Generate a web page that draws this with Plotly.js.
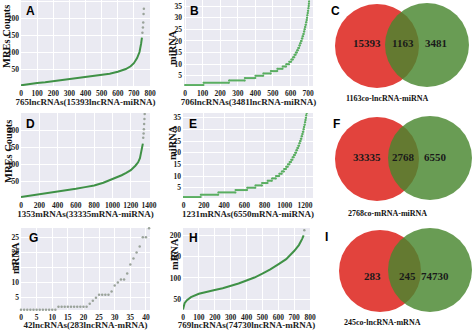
<!DOCTYPE html>
<html><head><meta charset="utf-8">
<script src="https://cdn.plot.ly/plotly-3.0.1.min.js"></script>
<style>html,body{margin:0;padding:0;background:#fff;overflow:hidden}#chart{width:474px;height:330px}</style>
</head><body><div id="chart"></div>
<script>
// ---------- DATA ----------
// A: MREs counts of lncRNAs (sorted)
const aCurveX = [0, 50, 100, 150, 200, 250, 300, 350, 400, 450, 500, 550, 600, 650, 680, 700, 720, 735, 745, 750];
const aCurveY = [2, 6, 9, 11, 14, 16, 19, 22, 25, 28, 32, 36, 42, 50, 58, 67, 82, 100, 125, 142];
const aTailX = [753, 756, 758, 760, 762, 764];
const aTailY = [157, 172, 187, 212, 227, 257];
// B: miRNA per lncRNA (step levels)
const bStart = [0,105,250,340,400,445,488,525,555,575,592,604,614,622,630,637,643,649,654,659,664,668,672,676,679,682,685,688,691,693,695,697,699,701,703,704,705];
const bLevel = [1,2,3,4,5,6,7,8,9,10,11,12,13,14,15,16,17,18,19,20,21,22,23,24,25,26,27,28,29,30,31,32,33,34,35,36,37];
const bEnd = 706;
// D: MREs counts of mRNAs (sorted)
const dCurveX = [0,100,200,300,400,500,600,700,800,900,1000,1100,1150,1200,1250,1280,1300,1315,1325,1332];
const dCurveY = [3,7,10,13,17,22,27,32,37,45,55,67,74,82,95,105,117,135,150,160];
const dTailX = [1336,1340,1343,1346,1349,1352];
const dTailY = [177,190,202,218,232,247];
// E: miRNA per mRNA (step levels)
const eStart = [0,170,343,513,628,709,775,830,873,912,945,970,992,1012,1030,1047,1062,1076,1089,1101,1112,1122,1132,1141,1149,1157,1164,1171,1177,1183,1188,1193,1198,1202,1206,1210,1213];
const eLevel = [1,2,3,4,5,6,7,8,9,10,11,12,13,14,15,16,17,18,19,20,21,22,23,24,25,26,27,28,29,30,31,32,33,34,35,36,37];
const eEnd = 1218;
// G: mRNA per lncRNA
const gX = [0,1,2,3,4,5,6,7,8,9,10,11,12,13,14,15,16,17,18,19,20,21,22,23,24,25,26,27,28,29,30,31,32,33,34,35,36,37,38,39,40,41];
const gY = [1,1,1,1,1,1,1,1,1,1,1,1,2,2,2,2,2,2,2,2,2,2,3,4,5,6,6,6,6,7,9,10,11,11,13,16,18,20,22,25,25,28];
// H: mRNA per lncRNA (sorted)
const hCurveX = [0,10,25,50,100,150,200,250,300,350,400,450,500,550,600,650,700,730,750,760];
const hCurveY = [26,41,48,55,63,68,72,76,81,87,94,101,110,120,132,144,163,177,191,200];
const hTailX = [764,766,768];
const hTailY = [212,223,235];
// Venn counts
const vennLeft = [15393, 33335, 283];
const vennBoth = [1163, 2768, 245];
const vennRight = [3481, 6550, 74730];
const vennCaption = ['1163co-lncRNA-miRNA', '2768co-mRNA-miRNA', '245co-lncRNA-mRNA'];
// Titles
const xTitles = ['765lncRNAs(15393lncRNA-miRNA)','706lncRNAs(3481lncRNA-miRNA)','1353mRNAs(33335mRNA-miRNA)','1231mRNAs(6550mRNA-miRNA)','42lncRNAs(283lncRNA-mRNA)','769lncRNAs(74730lncRNA-mRNA)'];
const yTitles = ['MREs Counts','miRNA','MREs Counts','miRNA','mRNA','mRNA'];
const panelLetters = ['A','B','C','D','E','F','G','H','I'];

// ---------- LAYOUT HELPERS ----------
const W = 474, H = 330;
const px = v => v / W, py = v => 1 - v / H;
const dX = (a, b) => [a / W, b / W];
const dY = (top, bottom) => [1 - bottom / H, 1 - top / H];
const serif = 'Liberation Serif, Times New Roman, serif';
const green = '#3f9146', stepGreen = '#5aae61', tailGrey = '#9aa39a';

function stepSegments(starts, levels, end) {
  const xs = [], ys = [];
  for (let i = 0; i < starts.length; i++) {
    const x1 = i + 1 < starts.length ? starts[i + 1] : end;
    xs.push(starts[i], x1, null); ys.push(levels[i], levels[i], null);
  }
  return {xs, ys};
}
const bSeg = stepSegments(bStart, bLevel, bEnd);
const eSeg = stepSegments(eStart, eLevel, eEnd);

function ax(extra) {
  return Object.assign({
    showgrid: true, gridcolor: '#ffffff', gridwidth: 1, zeroline: false, showline: false,
    ticks: '', fixedrange: true, automargin: false, ticklabelstandoff: 1,
    tickfont: {family: serif, size: 7.5, color: '#222', weight: 'bold'}
  }, extra);
}
function xt(i, standoff) {
  return {text: xTitles[i], font: {family: serif, size: 9, color: '#222', weight: 'bold'}, standoff: standoff};
}

const traces = [
  {x: aCurveX, y: aCurveY, xaxis: 'x', yaxis: 'y', mode: 'lines', line: {color: green, width: 2}},
  {x: aTailX, y: aTailY, xaxis: 'x', yaxis: 'y', mode: 'markers', marker: {color: tailGrey, size: 2.5}, cliponaxis: false},
  {x: bSeg.xs, y: bSeg.ys, xaxis: 'x2', yaxis: 'y2', mode: 'lines+markers', line: {color: stepGreen, width: 2}, marker: {color: stepGreen, size: 2}, connectgaps: false},
  {x: dCurveX, y: dCurveY, xaxis: 'x3', yaxis: 'y3', mode: 'lines', line: {color: green, width: 2}},
  {x: dTailX, y: dTailY, xaxis: 'x3', yaxis: 'y3', mode: 'markers', marker: {color: tailGrey, size: 2.5}},
  {x: eSeg.xs, y: eSeg.ys, xaxis: 'x4', yaxis: 'y4', mode: 'lines+markers', line: {color: stepGreen, width: 2}, marker: {color: stepGreen, size: 2}, connectgaps: false},
  {x: gX, y: gY, xaxis: 'x5', yaxis: 'y5', mode: 'markers', marker: {color: tailGrey, size: 2.5}, cliponaxis: false},
  {x: hCurveX, y: hCurveY, xaxis: 'x6', yaxis: 'y6', mode: 'lines', line: {color: green, width: 2}},
  {x: hTailX, y: hTailY, xaxis: 'x6', yaxis: 'y6', mode: 'markers', marker: {color: tailGrey, size: 2.5}, cliponaxis: false}
];

const layout = {
  width: W, height: H, margin: {l: 0, r: 0, t: 0, b: 0},
  paper_bgcolor: '#ffffff', plot_bgcolor: '#EAEAF2', showlegend: false,
  xaxis: ax({domain: dX(21, 150), range: [0, 800], tickvals: [0,100,200,300,400,500,600,700,800], anchor: 'y', title: xt(0, 2)}),
  yaxis: ax({domain: dY(0, 86), range: [0, 253], tickvals: [50,100,150,200,250], anchor: 'x'}),
  xaxis2: ax({domain: dX(184, 313), range: [-6, 728], tickvals: [0,100,200,300,400,500,600,700], anchor: 'y2', title: xt(1, 2)}),
  yaxis2: ax({domain: dY(0, 86), range: [0.6, 37.6], tickvals: [5,10,15,20,25,30,35], anchor: 'x2'}),
  xaxis3: ax({domain: dX(21, 150), range: [0, 1410], tickvals: [0,200,400,600,800,1000,1200,1400], anchor: 'y3', title: xt(2, 2)}),
  yaxis3: ax({domain: dY(113, 198), range: [0, 250], tickvals: [50,100,150,200], anchor: 'x3'}),
  xaxis4: ax({domain: dX(183, 313), range: [-5, 1278], tickvals: [0,200,400,600,800,1000,1200], anchor: 'y4', title: xt(3, 2)}),
  yaxis4: ax({domain: dY(113, 198), range: [0.6, 37], tickvals: [5,10,15,20,25,30,35], anchor: 'x4'}),
  xaxis5: ax({domain: dX(21, 150), range: [0, 41.3], tickvals: [0,5,10,15,20,25,30,35,40], anchor: 'y5', title: xt(4, 2)}),
  yaxis5: ax({domain: dY(228, 310), range: [0.9, 28.1], tickvals: [5,10,15,20,25], anchor: 'x5'}),
  xaxis6: ax({domain: dX(183, 310), range: [0, 800], tickvals: [0,100,200,300,400,500,600,700,800], anchor: 'y6', title: xt(5, 2)}),
  yaxis6: ax({domain: dY(228, 310), range: [25, 217], tickvals: [50,100,150,200], anchor: 'x6'}),
  shapes: [], annotations: []
};

// y-axis titles (placed as annotations)
const yTitlePos = [[7, 37], [172, 48], [8, 152], [172, 143], [15, 258], [174, 254]];
yTitles.forEach((t, i) => layout.annotations.push({
  text: t, x: px(yTitlePos[i][0]), y: py(yTitlePos[i][1]), xref: 'paper', yref: 'paper',
  textangle: -90, showarrow: false, xanchor: 'center', yanchor: 'middle',
  font: {family: serif, size: 10.5, color: '#111', weight: 'bold'}
}));

// panel letters
const letterPos = [[30, 11], [194, 11], [335, 11], [30, 124], [193, 124], [336, 124], [33, 238], [193, 238], [326, 237]];
panelLetters.forEach((t, i) => layout.annotations.push({
  text: t, x: px(letterPos[i][0]), y: py(letterPos[i][1]), xref: 'paper', yref: 'paper',
  showarrow: false, xanchor: 'center', yanchor: 'middle',
  font: {family: 'Liberation Sans, Arial, sans-serif', size: 12, color: '#000', weight: 'bold'}
}));

// Venn diagrams
const venn = [
  {red: [377, 46, 42], grn: [427, 45, 42], ty: 43, tx: [367, 403, 436], cap: [387, 98]},
  {red: [377, 159, 42], grn: [430, 158, 42], ty: 157, tx: [367, 403, 435], cap: [387, 213]},
  {red: [380, 271, 41], grn: [430, 270, 42], ty: 276, tx: [372, 407, 435], cap: [382, 322]}
];
function circle(c, color) {
  return {type: 'circle', xref: 'paper', yref: 'paper', x0: px(c[0] - c[2]), x1: px(c[0] + c[2]),
    y0: py(c[1] + c[2]), y1: py(c[1] - c[2]), fillcolor: color, line: {width: 0}, layer: 'above'};
}
venn.forEach((v, i) => {
  layout.shapes.push(circle(v.red, '#E2433D'));
  layout.shapes.push(circle(v.grn, 'rgba(72,134,46,0.82)'));
  [vennLeft[i], vennBoth[i], vennRight[i]].forEach((n, k) => layout.annotations.push({
    text: String(n), x: px(v.tx[k]), y: py(v.ty), xref: 'paper', yref: 'paper', showarrow: false,
    xanchor: 'center', yanchor: 'middle', font: {family: serif, size: 11, color: '#1a1a1a', weight: 'bold'}
  }));
  layout.annotations.push({
    text: vennCaption[i], x: px(v.cap[0]), y: py(v.cap[1]), xref: 'paper', yref: 'paper', showarrow: false,
    xanchor: 'center', yanchor: 'middle', font: {family: serif, size: 8, color: '#111', weight: 'bold'}
  });
});

Plotly.newPlot('chart', traces, layout, {staticPlot: true, displayModeBar: false});
</script></body></html>
